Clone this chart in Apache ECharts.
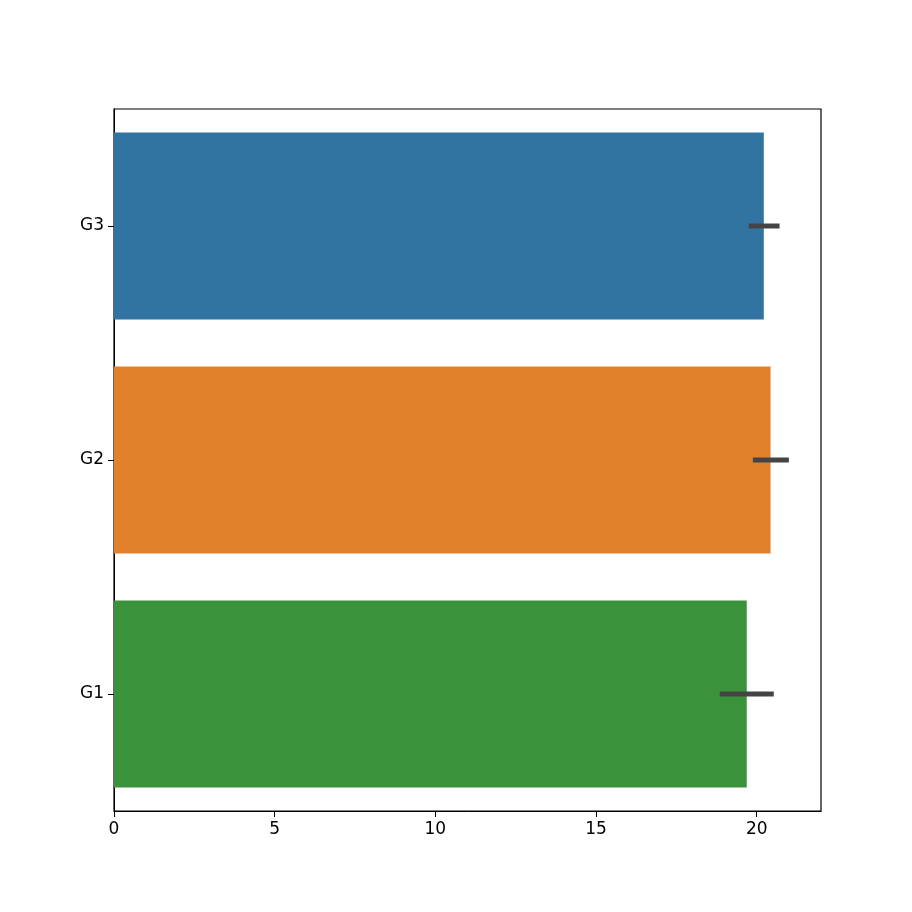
<!DOCTYPE html>
<html>
<head>
<meta charset="utf-8">
<script src="https://cdn.jsdelivr.net/npm/echarts@6/dist/echarts.min.js"></script>
<style>html,body{margin:0;padding:0;background:#fff}</style>
</head>
<body>
<div id="chart" style="width:912px;height:912px"></div>
<script>
var categories = ["G1", "G2", "G3"]
var means = [19.69, 20.43, 20.22]
var errLow = [18.85, 19.88, 19.75]
var errHigh = [20.53, 21.0, 20.71]
var colors = ["#3a923a", "#e1812c", "#3274a1"]

var chart = echarts.init(document.getElementById("chart"))
chart.setOption({
    animation: false,
    grid: { left: 114, right: 91, top: 109, bottom: 101, show: true, borderColor: "#000", borderWidth: 1.2 },
    xAxis: {
        type: "value", min: 0, max: 22, interval: 5,
        axisLine: { show: true, lineStyle: { color: "#000" } },
        axisTick: { show: true, length: 6, lineStyle: { color: "#000" } },
        axisLabel: { color: "#000", fontSize: 17, fontFamily: "DejaVu Sans", margin: 10, showMaxLabel: false },
        splitLine: { show: false }
    },
    yAxis: {
        type: "category", data: categories,
        axisLine: { show: true, lineStyle: { color: "#000" } },
        axisTick: { show: true, alignWithLabel: true, length: 6, lineStyle: { color: "#000" } },
        axisLabel: { color: "#000", fontSize: 17, fontFamily: "DejaVu Sans", margin: 10 }
    },
    series: [
        {
            type: "bar", barWidth: "80%",
            data: means.map(function (v, i) { return { value: v, itemStyle: { color: colors[i] } } })
        },
        {
            type: "custom",
            data: categories.map(function (c, i) { return [errLow[i], errHigh[i], i] }),
            renderItem: function (params, api) {
                var a = api.coord([api.value(0), api.value(2)])
                var b = api.coord([api.value(1), api.value(2)])
                return { type: "line", shape: { x1: a[0], y1: a[1], x2: b[0], y2: b[1] }, style: { stroke: "#444", lineWidth: 5 } }
            },
            z: 5
        }
    ]
})
</script>
</body>
</html>
